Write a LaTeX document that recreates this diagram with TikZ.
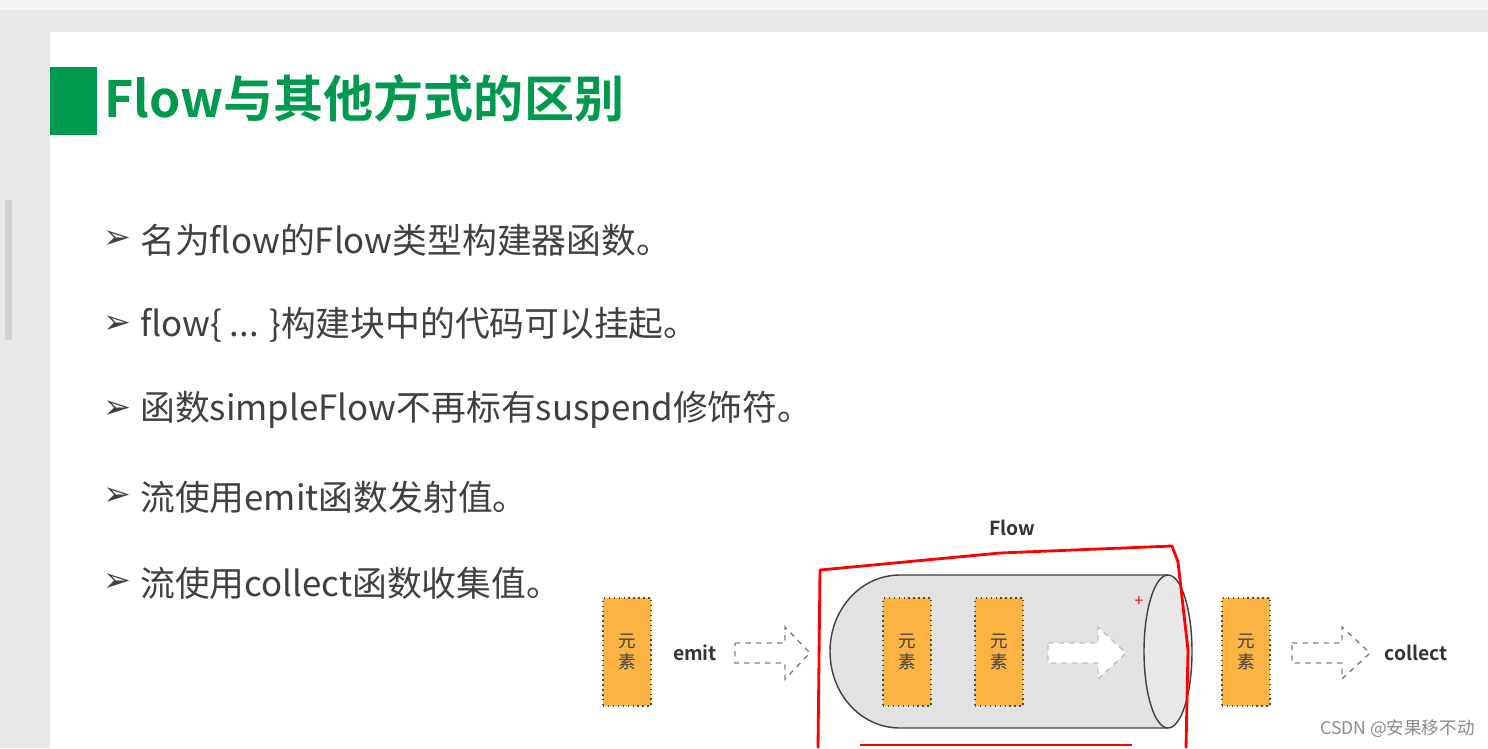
\documentclass[tikz,border=0pt]{standalone}
\usepackage{fontspec}
\setmainfont{Noto Sans CJK SC}[BoldFont={Noto Sans CJK SC Bold}]
\newfontfamily\symfont{DejaVu Sans}
\definecolor{slidegreen}{HTML}{009A4E}
\definecolor{txtgray}{HTML}{404040}
\definecolor{boxor}{HTML}{FBB343}
\definecolor{cylgray}{HTML}{E2E2E2}
\begin{document}
\begin{tikzpicture}[x=0.02cm,y=-0.02cm,
  elem/.style={draw=black!70,dotted,thick,fill=boxor,minimum width=0.96cm,minimum height=2.16cm,inner sep=0pt,font=\fontsize{10}{12}\selectfont,text=black!75,align=center},
  bullet/.style={anchor=west,font=\fontsize{19.8}{22}\selectfont,text=txtgray,inner sep=0pt},
  lbl/.style={font=\bfseries\fontsize{11}{13}\selectfont,text=black!80,inner sep=0pt},
  hollow/.style={draw=black!50,dashed,thick,fill=white}]
\useasboundingbox (0,0) rectangle (1488,748);
\fill[gray!18] (0,0) rectangle (1488,748);
\fill[gray!8] (0,0) rectangle (1488,10);
\fill[gray!35] (5,200) rectangle (12,340);
\fill[white] (50,32) rectangle (1488,748);
% title
\fill[slidegreen] (50,67) rectangle (97,135);
\node[anchor=west,inner sep=0pt,text=slidegreen,font=\bfseries\fontsize{28.5}{30}\selectfont] (title) at (104,98) {Flow与其他方式的区别};
% bullets
\foreach \y/\t [count=\i] in {240/名为flow的Flow类型构建器函数。,325/{flow\{ ... \}构建块中的代码可以挂起。},410/函数simpleFlow不再标有suspend修饰符。,497/流使用emit函数发射值。,583/流使用collect函数收集值。}{
  \node[anchor=west,inner sep=0pt,text=txtgray,font=\symfont\fontsize{19}{20}\selectfont] (m\i) at (103,\y) {➢};
  \node[bullet] (b\i) at (140,\y) {\t};
}
% flow label
\node[lbl] (flowlbl) at (1012,528) {Flow};
% cylinder
\fill[cylgray] (900,575) -- (1168,575) .. controls (1181,575) and (1192,609) .. (1192,651.5) .. controls (1192,694) and (1181,728) .. (1168,728) -- (900,728) .. controls (861,728) and (830,694) .. (830,651.5) .. controls (830,609) and (861,575) .. (900,575) -- cycle;
\draw[black!75,thick] (1168,575) -- (900,575) .. controls (861,575) and (830,609) .. (830,651.5) .. controls (830,694) and (861,728) .. (900,728) -- (1168,728);
\draw[black!75,thick,fill=cylgray!80] (1168,651.5) ellipse[x radius=0.48cm,y radius=1.53cm];
% elements
\node[elem] (e0) at (627,652) {元\\素};
\node[elem] (e1) at (907,652) {元\\素};
\node[elem] (e2) at (999,652) {元\\素};
\node[elem] (e3) at (1246,652) {元\\素};
\node[lbl] (emit) at (695,653) {emit};
\node[lbl] (collect) at (1416,653) {collect};
% hollow arrows
\draw[hollow] (735,643) -- (785,643) -- (785,627) -- (810,653) -- (785,679) -- (785,663) -- (735,663) -- cycle;
\draw[hollow] (1292,643) -- (1342,643) -- (1342,627) -- (1370,653) -- (1342,679) -- (1342,663) -- (1292,663) -- cycle;
\draw[draw=black!25,dashed,thick,fill=white] (1048,643) -- (1098,643) -- (1098,627) -- (1126,653) -- (1098,679) -- (1098,663) -- (1048,663) -- cycle;
\node[text=red,inner sep=0pt,font=\fontsize{9}{9}\selectfont] (plus) at (1139,602) {+};
% red hand drawn outline
\draw[red,line width=1.6pt,line join=round] (818,748) -- (820,570) -- (1000,553) -- (1172,546) -- (1178,562) -- (1188,650) -- (1186,748);
\draw[red,line width=1.2pt] (860,745) -- (1132,745);
% watermark
\node[anchor=east,inner sep=0pt,text=black!45,font=\fontsize{10}{12}\selectfont] (wm) at (1475,729) {CSDN @安果移不动};
\end{tikzpicture}
\end{document}
